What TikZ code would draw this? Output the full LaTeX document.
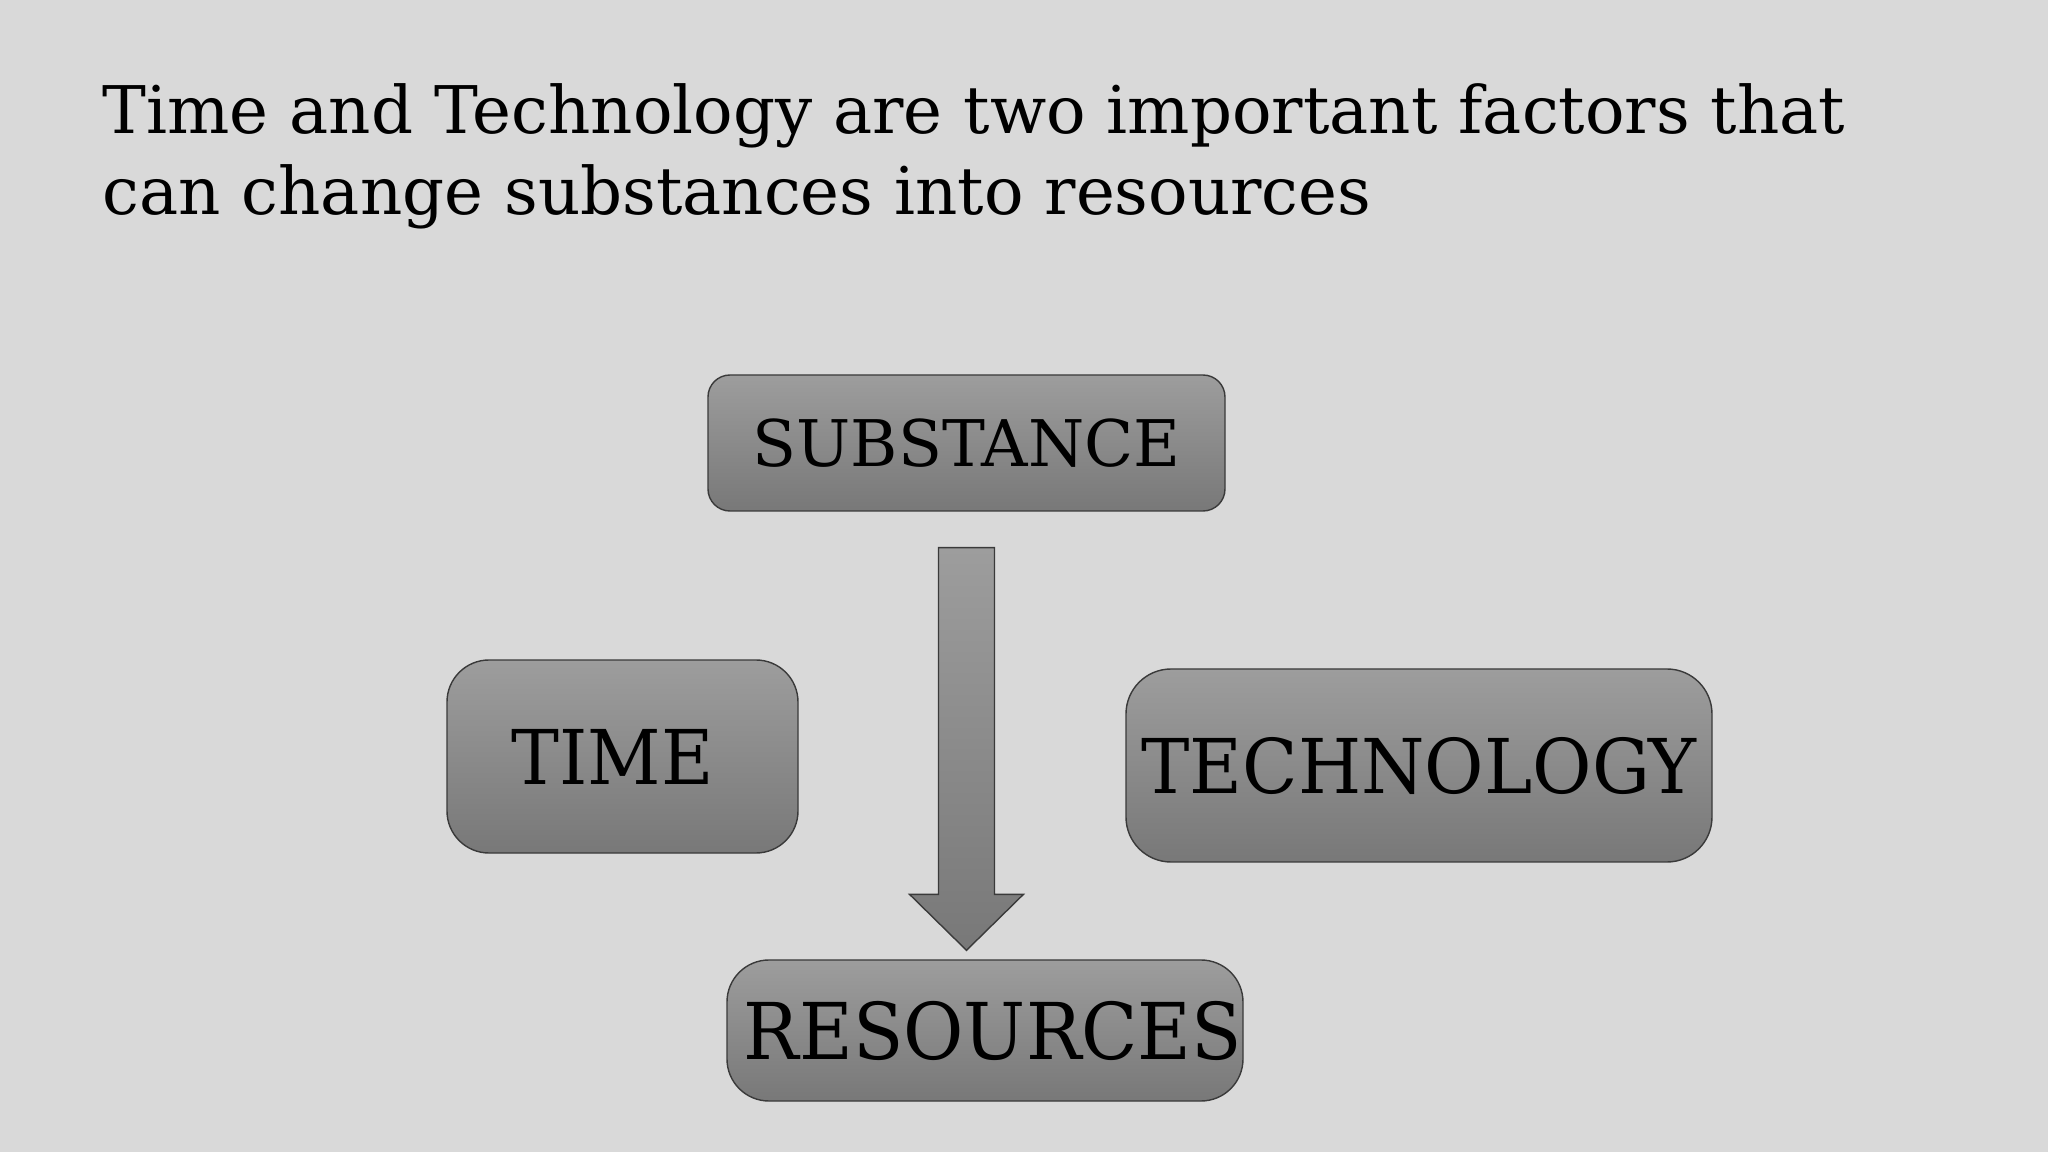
\documentclass[tikz,border=0pt]{standalone}
\usepackage{fontspec}
\setmainfont{DejaVu Serif}
\usetikzlibrary{positioning, calc}
\definecolor{slidebg}{HTML}{D9D9D9}
\definecolor{boxtop}{HTML}{9D9D9D}
\definecolor{boxbot}{HTML}{787878}
\definecolor{boxline}{HTML}{3A3A3A}
\newcommand{\narrow}[2]{\scalebox{#1}[1]{#2}}
\begin{document}
\begin{tikzpicture}[
        box/.style={draw=boxline, thin, top color=boxtop, bottom color=boxbot,
            rounded corners=#1, inner sep=0pt, align=center},
        bigarrow/.style={draw=boxline, thin, top color=boxtop, bottom color=boxbot}
    ]
        \fill[slidebg] (0,0) rectangle (20.48,-11.52);
        \useasboundingbox (0,0) rectangle (20.48,-11.52);
        \node (title) [anchor=base west, align=left, inner sep=0pt, font=\fontsize{18.7}{23.3}\selectfont]
            at (1.02,-2.15) {Time and Technology are two important factors that\\can change substances into resources};
        \node (sub) [box=0.22cm, minimum width=5.17cm, minimum height=1.36cm,
            font=\fontsize{18.3}{22}\selectfont] at (9.665,-4.43) {\narrow{1}{SUBSTANCE}};
        \node (time) [box=0.42cm, minimum width=3.51cm, minimum height=1.93cm,
            font=\fontsize{21.5}{26}\selectfont] at (6.225,-7.565) {\narrow{0.95}{TIME}\hspace{0.2cm}};
        \node (tech) [box=0.45cm, minimum width=5.86cm, minimum height=1.93cm,
            font=\fontsize{21.5}{26}\selectfont] at (14.19,-7.655) {\narrow{0.96}{TECHNOLOGY}};
        \node (res) [box=0.42cm, minimum width=5.16cm, minimum height=1.41cm,
            font=\fontsize{22.3}{26}\selectfont] at (9.85,-10.305) {\hspace{0.16cm}\narrow{0.94}{RESOURCES}};
        % block arrow from substance down to resources
        \coordinate (top) at ($(sub.south)+(0,-0.36)$);
        \coordinate (tip) at ($(sub.south |- res.north)+(0,0.09)$);
        \coordinate (neck) at ($(tip)+(0,0.56)$);
        \path [bigarrow]
            ($(top)+(-0.28,0)$) -- ($(top)+(0.28,0)$) -- ($(neck)+(0.28,0)$)
            -- ($(neck)+(0.57,0)$) -- (tip) -- ($(neck)+(-0.57,0)$)
            -- ($(neck)+(-0.28,0)$) -- cycle;
    \end{tikzpicture}
\end{document}
